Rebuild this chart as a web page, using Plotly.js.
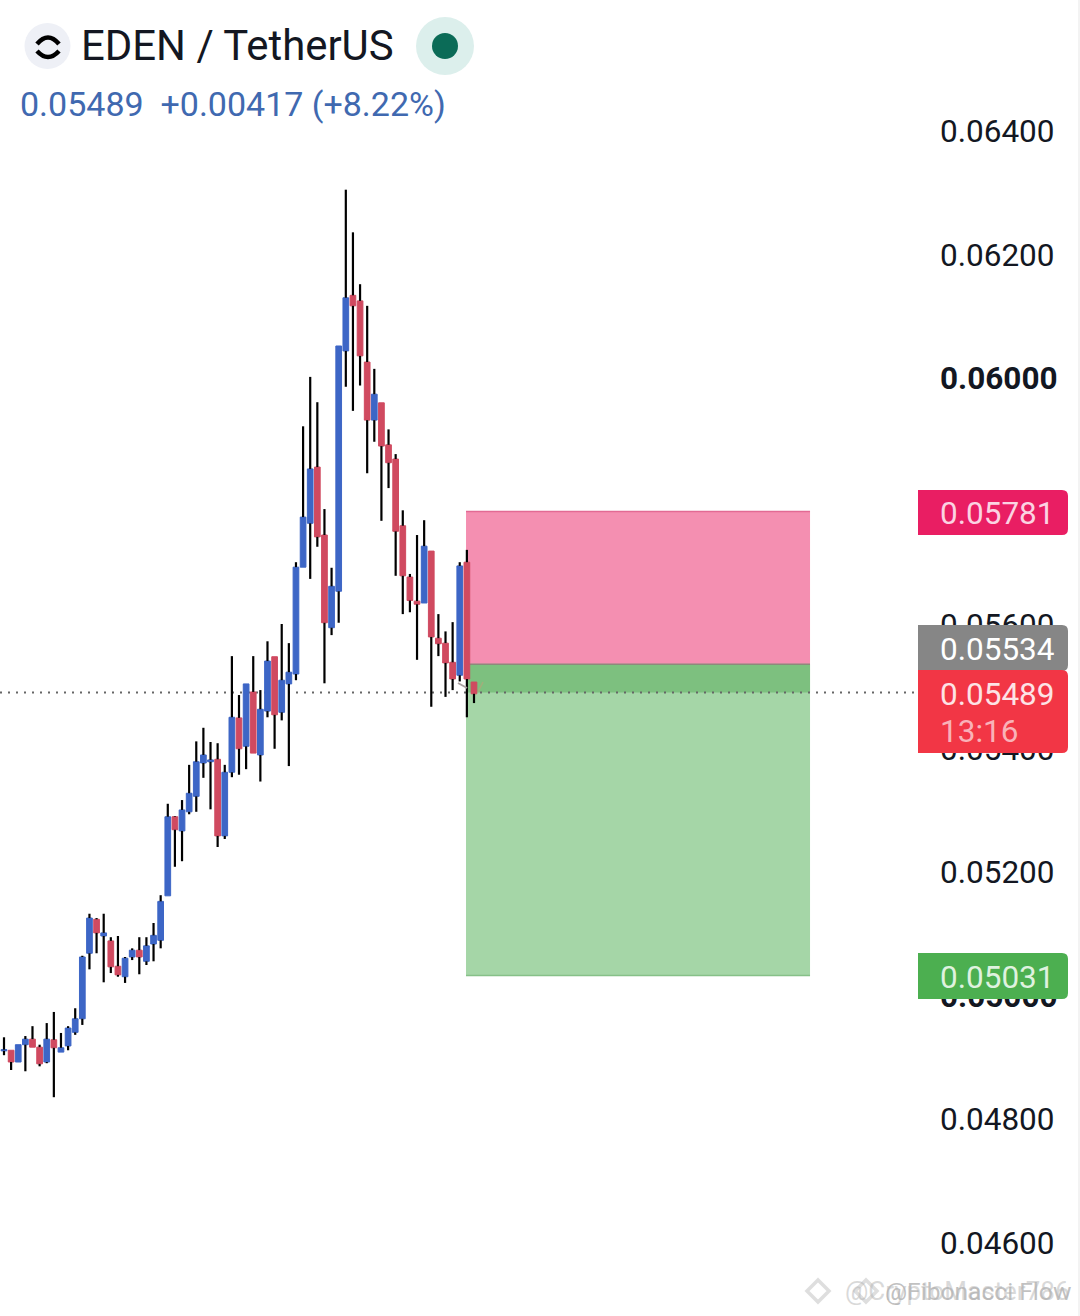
<!DOCTYPE html>
<html>
<head>
<meta charset="utf-8">
<script src="https://cdn.plot.ly/plotly-3.0.1.min.js"></script>
<style>html,body{margin:0;padding:0;background:#fff;overflow:hidden}#c{width:1080px;height:1316px}</style>
</head>
<body>
<div id="c"></div>
<script>
const open_ = [0.04911,0.04912,0.04893,0.04921,0.04930,0.04917,0.04893,0.04929,0.04909,0.04919,0.04941,0.04963,0.05069,0.05124,0.05097,0.05089,0.05048,0.05031,0.05063,0.05074,0.05056,0.05084,0.05090,0.05162,0.05290,0.05267,0.05298,0.05323,0.05377,0.05379,0.05383,0.05259,0.05362,0.05450,0.05404,0.05492,0.05390,0.05461,0.05549,0.05459,0.05505,0.05521,0.05694,0.05765,0.05856,0.05746,0.05596,0.05655,0.06044,0.06134,0.06125,0.06026,0.05932,0.05960,0.05892,0.05869,0.05761,0.05678,0.05639,0.05636,0.05720,0.05579,0.05571,0.05540,0.05519,0.05702,0.05508];
const close_ = [0.04913,0.04893,0.04921,0.04930,0.04917,0.04890,0.04930,0.04916,0.04916,0.04948,0.04963,0.05063,0.05126,0.05102,0.05102,0.05047,0.05034,0.05061,0.05074,0.05063,0.05081,0.05098,0.05153,0.05290,0.05269,0.05301,0.05328,0.05379,0.05390,0.05382,0.05259,0.05362,0.05451,0.05400,0.05505,0.05393,0.05464,0.05542,0.05455,0.05511,0.05524,0.05694,0.05775,0.05853,0.05743,0.05604,0.05663,0.06052,0.06130,0.06117,0.06036,0.05932,0.05974,0.05890,0.05863,0.05752,0.05680,0.05640,0.05634,0.05728,0.05581,0.05570,0.05539,0.05513,0.05696,0.05513,0.05489];
const high_ = [0.04933,0.04912,0.04921,0.04935,0.04951,0.04921,0.04956,0.04974,0.04940,0.04951,0.04980,0.05065,0.05133,0.05126,0.05133,0.05095,0.05097,0.05063,0.05077,0.05095,0.05095,0.05118,0.05163,0.05311,0.05291,0.05317,0.05374,0.05412,0.05434,0.05411,0.05409,0.05374,0.05550,0.05487,0.05505,0.05550,0.05495,0.05574,0.05549,0.05602,0.05571,0.05702,0.05922,0.06002,0.05961,0.05788,0.05693,0.06052,0.06305,0.06236,0.06152,0.06117,0.06015,0.05960,0.05917,0.05877,0.05786,0.05683,0.05746,0.05770,0.05720,0.05618,0.05590,0.05605,0.05702,0.05722,0.05508];
const low_ = [0.04904,0.04880,0.04893,0.04878,0.04917,0.04886,0.04891,0.04836,0.04909,0.04912,0.04937,0.04953,0.05043,0.05069,0.05022,0.05037,0.05031,0.05021,0.05058,0.05035,0.05050,0.05056,0.05077,0.05162,0.05209,0.05218,0.05294,0.05298,0.05353,0.05302,0.05241,0.05254,0.05354,0.05358,0.05367,0.05393,0.05347,0.05451,0.05400,0.05446,0.05372,0.05511,0.05694,0.05675,0.05727,0.05506,0.05584,0.05604,0.05986,0.05947,0.05988,0.05846,0.05897,0.05769,0.05822,0.05680,0.05618,0.05621,0.05544,0.05636,0.05468,0.05550,0.05484,0.05495,0.05509,0.05451,0.05474];

const tickValues = [0.064,0.062,0.06,0.058,0.056,0.054,0.052,0.05,0.048,0.046];
const tickLabels = ['0.06400','0.06200','<b>0.06000</b>','0.05800','0.05600','0.05400','0.05200','<b>0.05000</b>','0.04800','0.04600'];

const stopLabel = '0.05781', entryLabel = '0.05534', targetLabel = '0.05031', lastLabel = '0.05489';
const boxTop = 0.05784, boxMid = 0.05537, boxBottom = 0.05033, lastLevel = 0.05491;
const boxStart = 64.88, boxEnd = 113.19;
const headerName = 'EDEN / TetherUS';
const headerQuote = '0.05489&nbsp;&nbsp;+0.00417 (+8.22%)';
const countdown = '13:16';

const WIDTH = 1080, HEIGHT = 1316, PLOT_W = 918;
const X_MIN = -0.5617, X_MAX = 128.35;
const BLUE = '#3d66c6', RED = '#d04a60';
const xs = open_.map((_, i) => i);
const bodyHigh = open_.map((o, i) => Math.max(o, close_[i]));
const bodyLow = open_.map((o, i) => Math.min(o, close_[i]));

// Wicks: one segment above and one below each body, so they never cross it
const wickX = [], wickY = [];
xs.forEach(i => {
  wickX.push(i, i, null, i, i, null);
  wickY.push(bodyHigh[i], high_[i], null, low_[i], bodyLow[i], null);
});
const wicks = {
  type: 'scatter', mode: 'lines', x: wickX, y: wickY, connectgaps: false,
  line: {color: '#000000', width: 2.2}, hoverinfo: 'skip', showlegend: false
};
const bodies = {
  type: 'candlestick', x: xs, open: open_, close: close_, high: bodyHigh, low: bodyLow,
  whiskerwidth: 0, hoverinfo: 'skip', showlegend: false,
  increasing: {line: {color: BLUE, width: 1}, fillcolor: BLUE},
  decreasing: {line: {color: RED, width: 1}, fillcolor: RED}
};

function pxShape(o) {
  return Object.assign({xref: 'paper', yref: 'paper', xsizemode: 'pixel', ysizemode: 'pixel',
    xanchor: 0, yanchor: 1, layer: 'above'}, o);
}
function tagPath(x0, x1, y0, y1, r) {
  return `M ${x0},${-y0} L ${x1 - r},${-y0} Q ${x1},${-y0} ${x1},${-(y0 + r)} L ${x1},${-(y1 - r)} Q ${x1},${-y1} ${x1 - r},${-y1} L ${x0},${-y1} Z`;
}
function tag(y0, y1, color) {
  return pxShape({type: 'path', path: tagPath(918, 1068, y0, y1, 6), fillcolor: color, line: {width: 0}});
}
function circle(cx, cy, r, color) {
  return pxShape({type: 'circle', x0: cx - r, x1: cx + r, y0: -(cy - r), y1: -(cy + r), fillcolor: color, line: {width: 0}});
}
function stroke(path, color, w) {
  return pxShape({type: 'path', path, line: {color, width: w}, fillcolor: 'rgba(0,0,0,0)'});
}
function diamond(cx, cy) {
  return stroke(`M ${cx - 11},${-cy} L ${cx},${-(cy - 11)} L ${cx + 11},${-cy} L ${cx},${-(cy + 11)} Z`, 'rgba(190,190,190,0.5)', 3.5);
}

const shapes = [
  {type: 'rect', xref: 'x', yref: 'y', x0: boxStart, x1: boxEnd, y0: boxMid, y1: boxTop, layer: 'below',
    fillcolor: '#f48fb1', line: {width: 0}},
  {type: 'rect', xref: 'x', yref: 'y', x0: boxStart, x1: boxEnd, y0: boxBottom, y1: boxMid, layer: 'below',
    fillcolor: '#a5d6a7', line: {width: 0}},
  {type: 'rect', xref: 'x', yref: 'y', x0: boxStart, x1: boxEnd, y0: lastLevel, y1: boxMid, layer: 'below',
    fillcolor: '#7dc07f', line: {width: 0}},
  {type: 'line', xref: 'x', yref: 'y', x0: boxStart, x1: boxEnd, y0: boxTop, y1: boxTop, layer: 'below', line: {color: '#e26a94', width: 1.5}},
  {type: 'line', xref: 'x', yref: 'y', x0: boxStart, x1: boxEnd, y0: boxMid, y1: boxMid, layer: 'below', line: {color: '#8c8a7c', width: 1.5}},
  {type: 'line', xref: 'x', yref: 'y', x0: boxStart, x1: boxEnd, y0: boxBottom, y1: boxBottom, layer: 'below', line: {color: '#86c088', width: 1.5}},
  {type: 'line', xref: 'x', yref: 'y', x0: X_MIN, x1: X_MAX, y0: lastLevel, y1: lastLevel, layer: 'below',
    line: {color: '#666666', width: 2, dash: '2px,6px'}},
  stroke('M 458,-683 L 467,-688', '#a8a0a0', 2),
  stroke('M 478,-692 L 483,-682', 'rgba(190,160,120,0.6)', 1.5),
  tag(490, 535, '#e91e63'),
  tag(625, 671, '#868686'),
  tag(670, 753, '#f23645'),
  tag(953, 999, '#4caf50'),
  circle(47.5, 46, 23, '#eef0f6'),
  stroke('M 37,-44 Q 48,-31 59,-44', '#000', 4.5),
  stroke('M 37,-51 Q 48,-63 59,-51', '#000', 4.5),
  circle(445, 46, 29, '#dcefec'),
  circle(445, 46, 13, '#0b6b57'),
  diamond(818, 1291),
  diamond(866, 1291),
  pxShape({type: 'line', x0: 1079, x1: 1079, y0: 0, y1: -1316, line: {color: '#f3f3f3', width: 2}})
];

function label(text, xpx, ypx, size, color, extra) {
  return Object.assign({text, xref: 'paper', yref: 'paper', x: xpx / PLOT_W, y: 1 - ypx / HEIGHT,
    xanchor: 'left', yanchor: 'middle', showarrow: false, font: {family: 'Roboto', size, color}, borderpad: 0, borderwidth: 0}, extra || {});
}
const annotations = [
  label(headerName, 81, 45, 41.9, '#131722'),
  label(headerQuote, 20, 104, 34, '#4069b0'),
  label(stopLabel, 940.5, 513, 31.5, '#fbd3e2'),
  label(entryLabel, 940.5, 649, 31.5, '#ffffff'),
  label(lastLabel, 940.5, 694, 31.5, '#fde3e5'),
  label(countdown, 940.5, 731, 31.5, '#f9b2b8'),
  label(targetLabel, 940.5, 977, 31.5, '#dff2df'),
  label('@Fibonacci Flow', 885, 1291, 24.6, 'rgba(165,165,165,0.7)'),
  label('@CryptoMaster786', 845, 1291, 26, 'rgba(180,180,180,0.5)')
];

const layout = {
  width: WIDTH, height: HEIGHT,
  margin: {l: 0, r: WIDTH - PLOT_W, t: 0, b: 0, pad: 0},
  paper_bgcolor: '#ffffff', plot_bgcolor: '#ffffff',
  showlegend: false, dragmode: false, hovermode: false,
  boxgap: 0.2, boxgroupgap: 0,
  xaxis: {range: [X_MIN, X_MAX], visible: false, fixedrange: true, rangeslider: {visible: false}, showgrid: false, zeroline: false},
  yaxis: {range: [0.0448185, 0.0661205], side: 'right', tickmode: 'array', tickvals: tickValues, ticktext: tickLabels,
    showgrid: false, zeroline: false, showline: false, ticks: '', ticklabelstandoff: 21,
    tickfont: {family: 'Roboto', size: 31.5, color: '#131722'}, fixedrange: true, automargin: false},
  shapes, annotations
};
Plotly.newPlot('c', [bodies, wicks], layout, {displayModeBar: false, staticPlot: true, responsive: false});
</script>
</body>
</html>
